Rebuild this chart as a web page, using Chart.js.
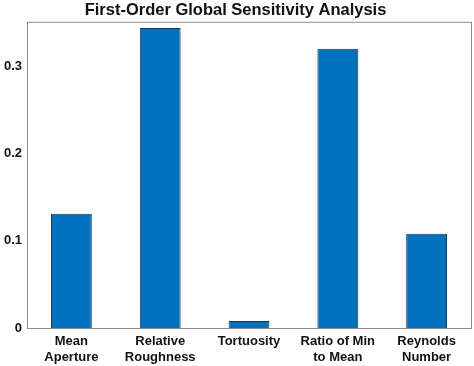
<!DOCTYPE html>
<html>
<head>
<meta charset="utf-8">
<script src="https://cdn.jsdelivr.net/npm/chart.js@4"></script>
<style>
  html, body { margin: 0; padding: 0; background: #fff; }
  #wrap { width: 474px; height: 366px; }
</style>
</head>
<body>
<div id="wrap"><canvas id="chart"></canvas></div>
<script>
const categories = [["Mean", "Aperture"], ["Relative", "Roughness"], "Tortuosity", ["Ratio of Min", "to Mean"], ["Reynolds", "Number"]];
const sensitivity = [0.131, 0.344, 0.008, 0.320, 0.108];
const yTicks = [0, 0.1, 0.2, 0.3];

// draws the full box round the plot area like matlab does
const boxPlugin = {
    id: 'box',
    afterDraw(chart) {
        const { ctx, chartArea } = chart;
        ctx.save();
        ctx.strokeStyle = '#8c8c8c';
        ctx.lineWidth = 1;
        ctx.strokeRect(chartArea.left + 0.5, chartArea.top + 0.5,
            chartArea.right - chartArea.left, chartArea.bottom - chartArea.top);
        ctx.restore();
    }
};

new Chart(document.getElementById('chart'), {
    type: 'bar',
    data: {
        labels: categories,
        datasets: [{
            data: sensitivity,
            backgroundColor: '#0072BD',
            borderColor: '#1d3550',
            borderWidth: 1,
            barPercentage: 0.46,
            categoryPercentage: 1.0
        }]
    },
    options: {
        responsive: true,
        maintainAspectRatio: false,
        animation: false,
        layout: { padding: { top: 0, right: 3, bottom: 0, left: 0 } },
        plugins: {
            legend: { display: false },
            tooltip: { enabled: false },
            title: {
                display: true,
                text: 'First-Order Global Sensitivity Analysis',
                color: '#111',
                font: { family: 'Liberation Sans', size: 16.5, weight: 'bold' },
                padding: { top: 1, bottom: 1 }
            }
        },
        scales: {
            x: {
                grid: { display: false, drawTicks: false },
                border: { display: false },
                ticks: {
                    color: '#111',
                    font: { family: 'Liberation Sans', size: 13, weight: 'bold' },
                    maxRotation: 0,
                    autoSkip: false,
                    padding: 6
                },
                afterFit(scale) { scale.height = 38; }
            },
            y: {
                min: 0,
                max: 0.351,
                grid: { display: false, drawTicks: false },
                border: { display: false },
                afterBuildTicks(scale) {
                    scale.ticks = yTicks.map(v => ({ value: v }));
                },
                ticks: {
                    color: '#111',
                    font: { family: 'Liberation Sans', size: 13, weight: 'bold' },
                    padding: 5,
                    callback: v => v === 0 ? '0' : v.toFixed(1)
                },
                afterFit(scale) { scale.width = 27; }
            }
        }
    },
    plugins: [boxPlugin]
});
</script>
</body>
</html>
